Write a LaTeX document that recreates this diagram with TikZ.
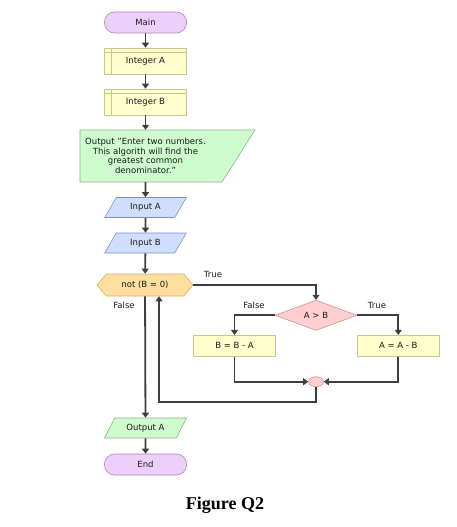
\documentclass[tikz,border=0pt]{standalone}
\usepackage{fontspec}
\setmainfont{DejaVu Sans}
\newfontfamily\capfont{Liberation Serif}
\usetikzlibrary{arrows.meta,shapes.geometric,shapes.symbols}
\definecolor{termfill}{RGB}{236,208,250}
\definecolor{termedge}{RGB}{175,130,195}
\definecolor{declfill}{RGB}{255,255,206}
\definecolor{decledge}{RGB}{205,195,140}
\definecolor{outfill}{RGB}{206,252,206}
\definecolor{outedge}{RGB}{130,185,130}
\definecolor{infill}{RGB}{206,222,252}
\definecolor{inedge}{RGB}{125,145,205}
\definecolor{hexfill}{RGB}{255,222,158}
\definecolor{hexedge}{RGB}{215,175,95}
\definecolor{decfill}{RGB}{255,206,206}
\definecolor{decedge}{RGB}{215,145,145}
\definecolor{flowline}{RGB}{62,62,62}
\tikzset{
  base/.style={draw, line width=0.6pt, font=\fontsize{8.5}{9.6}\selectfont, inner sep=1pt, text=black!90},
  term/.style={base, fill=termfill, draw=termedge, rounded corners=10pt, minimum width=82pt, minimum height=21pt},
  decl/.style={base, fill=declfill, draw=decledge, minimum width=82pt, minimum height=26pt,
    path picture={
      \draw[decledge, line width=0.6pt] ([xshift=7pt]path picture bounding box.north west) -- ([xshift=7pt]path picture bounding box.south west);
      \draw[decledge, line width=0.6pt] ([yshift=-4.5pt]path picture bounding box.north west) -- ([yshift=-4.5pt]path picture bounding box.north east);}},
  inout/.style={base, trapezium, trapezium left angle=57, trapezium right angle=123, trapezium stretches=true, minimum width=82pt, minimum height=20pt},
  inbox/.style={inout, fill=infill, draw=inedge},
  outbox/.style={inout, fill=outfill, draw=outedge},
  loopbox/.style={base, signal, signal to=west and east, signal pointer angle=100, fill=hexfill, draw=hexedge, minimum width=96pt, minimum height=22pt},
  decbox/.style={base, diamond, fill=decfill, draw=decedge, minimum width=82pt, minimum height=30pt, inner sep=0pt},
  setbox/.style={base, fill=declfill, draw=decledge, minimum width=82pt, minimum height=21pt},
  joint/.style={base, ellipse, fill=decfill, draw=decedge, minimum width=15pt, minimum height=10pt, inner sep=0pt},
  flow/.style={draw=flowline, line width=1.8pt, -{Triangle[width=7pt,length=5pt]}},
  tag/.style={font=\fontsize{8.5}{9.6}\selectfont, text=black!90, inner sep=0pt},
}

\begin{document}
\begin{tikzpicture}[x=1pt, y=-1pt]
		%%%%% START %%%%%
		\useasboundingbox (0, 0) rectangle (457, 527);
		
		\node[term] (main) at (145.5, 22.5) {Main};
		\node[decl] (intA) at (145.5, 61) {Integer A};
		\node[decl] (intB) at (145.5, 102) {Integer B};
		
		\filldraw[fill=outfill, draw=outedge, line width=0.6pt] (80, 130) -- (255, 130) -- (222, 182) -- (80, 182) -- cycle;
		\node[tag, align=center, minimum height=52pt] (prompt) at (145.5, 156) {Output "Enter two numbers.\\This algorith will find the\\greatest common\\denominator."};
		
		\node[inbox] (inA) at (145.5, 207.5) {Input A};
		\node[inbox] (inB) at (145.5, 243) {Input B};
		\node[loopbox] (loop) at (145, 285) {not (B = 0)};
		
		\node[decbox] (decide) at (316, 315.3) {A > B};
		\node[setbox] (bsub) at (234.5, 345.7) {B = B - A};
		\node[setbox] (asub) at (398.3, 345.7) {A = A - B};
		\node[joint] (junc) at (316, 381.7) {};
		
		\node[outbox] (outA) at (145.5, 428) {Output A};
		\node[term] (endn) at (145.5, 464.5) {End};
		
		\draw[flow] (main) -- (intA);
		\draw[flow] (intA) -- (intB);
		\draw[flow] (intB) -- (prompt);
		\draw[flow] (prompt) -- (inA);
		\draw[flow] (inA) -- (inB);
		\draw[flow] (inB) -- (loop);
		
		\draw[flow] (loop.east) -| (decide.north);
		\draw[flow] (decide.west) -| (bsub.north);
		\draw[flow] (decide.east) -| (asub.north);
		\draw[flow] (bsub.south) |- (junc.west);
		\draw[flow] (asub.south) |- (junc.east);
		\draw[flow] (junc.south) -- ++(0, 15) -| ([xshift=14pt]loop.south);
		
		\draw[flow] (loop) -- (outA);
		\draw[flow] (outA) -- (endn);
		
		\node[tag] (ttrue) at (213, 274) {True};
		\node[tag] (tfalse) at (124, 305) {False};
		\node[tag] (dfalse) at (254, 305) {False};
		\node[tag] (dtrue) at (377, 305) {True};
		
		\node[font=\capfont\bfseries\fontsize{18}{20}\selectfont, anchor=base] (figcap) at (225, 509.3) {Figure Q2};
		
		%%%%% END %%%%%
	\end{tikzpicture}
\end{document}
